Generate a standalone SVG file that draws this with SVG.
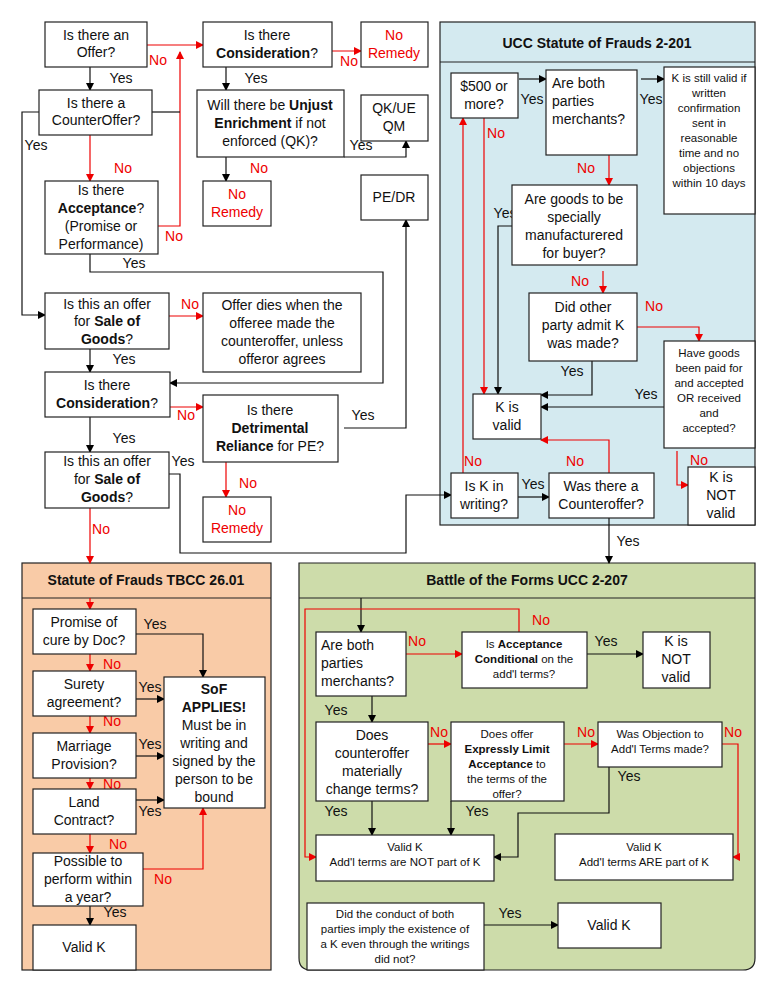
<svg xmlns="http://www.w3.org/2000/svg" width="768" height="994" viewBox="0 0 768 994">
<defs>
<marker id="ab" markerWidth="8" markerHeight="8" refX="7" refY="4" orient="auto" markerUnits="userSpaceOnUse"><path d="M0,0 L8,4 L0,8 Z" fill="#000"/></marker>
<marker id="ar" markerWidth="8" markerHeight="8" refX="7" refY="4" orient="auto" markerUnits="userSpaceOnUse"><path d="M0,0 L8,4 L0,8 Z" fill="#e00"/></marker>
</defs>
<style>
text{font-family:"Liberation Sans",Arial,sans-serif;font-size:14px;fill:#111;text-anchor:middle}
.s{font-size:11.5px}
.l{text-anchor:start}
.r{fill:#e00}
.b{font-weight:bold}
.h{font-weight:bold;font-size:14px}
rect.n{fill:#fff;stroke:#222;stroke-width:1.2}
.k{fill:none;stroke:#111;stroke-width:1.2}
.kr{fill:none;stroke:#e00;stroke-width:1.2}
.k2{fill:none;stroke:#111;stroke-width:1.2;marker-end:url(#ab)}
.kr2{fill:none;stroke:#e00;stroke-width:1.2;marker-end:url(#ar)}
</style>
<rect width="768" height="994" fill="#fff"/>
<g id="panels">
<rect x="440" y="22" width="315" height="503" fill="#d4eaf0" stroke="#222" stroke-width="1.2"/>
<line x1="440" y1="62" x2="755" y2="62" stroke="#222" stroke-width="1.2"/>
<text x="597" y="48" class="h">UCC Statute of Frauds 2-201</text>
<rect x="22" y="563" width="249" height="407" fill="#f9cba7" stroke="#222" stroke-width="1.2"/>
<line x1="22" y1="598" x2="271" y2="598" stroke="#222" stroke-width="1.2"/>
<text x="146" y="585" class="h">Statute of Frauds TBCC 26.01</text>
<path d="M299,563 H755 V958 Q755,970 743,970 H311 Q299,970 299,958 Z" fill="#cddcaa" stroke="#222" stroke-width="1.2"/>
<line x1="299" y1="598" x2="755" y2="598" stroke="#222" stroke-width="1.2"/>
<text x="527" y="585" class="h">Battle of the Forms UCC 2-207</text>
</g>
<g id="connectors">
<path class="kr2" d="M147,45 H203"/><text x="158" y="65" class="r">No</text>
<path class="kr2" d="M158,226 H180 V52"/><path class="k" d="M152,112 H180"/><text x="174" y="241" class="r">No</text>
<path class="k2" d="M90,67 V90"/><text x="121" y="83">Yes</text>
<path class="kr2" d="M90,135 V181"/><text x="123" y="173" class="r">No</text>
<path class="k2" d="M39,112 H22 V315 H45"/><text x="36" y="150">Yes</text>
<path class="k2" d="M90,254 V272 H383 V383 H170"/><text x="134" y="268">Yes</text>
<path class="kr2" d="M327,51 H361"/><text x="349" y="66" class="r">No</text>
<path class="k2" d="M226,67 V90"/><text x="256" y="83">Yes</text>
<path class="k2" d="M344,157 H406 V141"/><text x="361" y="150">Yes</text>
<path class="k2" d="M226,157 V181"/><text x="259" y="173" class="r">No</text>
<path class="kr2" d="M169,316 H203"/><text x="190" y="309" class="r">No</text>
<path class="k2" d="M90,349 V372"/><text x="124" y="364">Yes</text>
<path class="kr2" d="M170,407 H203"/><text x="186" y="420" class="r">No</text>
<path class="k2" d="M90,417 V452"/><text x="124" y="443">Yes</text>
<path class="k2" d="M344,428 H406 V220"/><text x="363" y="420">Yes</text>
<path class="kr2" d="M226,462 V497"/><text x="248" y="488" class="r">No</text>
<path class="k2" d="M169,474 H180 V553 H406 V495 H451"/><text x="183" y="466">Yes</text>
<path class="kr2" d="M90,508 V563"/><text x="101" y="534" class="r">No</text>
<path class="k2" d="M519,79 H546"/><text x="532" y="104">Yes</text>
<path class="k2" d="M641,79 H664"/><text x="651" y="104">Yes</text>
<path class="kr2" d="M484,118 V394"/><text x="496" y="138" class="r">No</text>
<path class="kr2" d="M609,155 V185"/><text x="586" y="173" class="r">No</text>
<path class="k2" d="M512,226 H498 V394"/><text x="505" y="218">Yes</text>
<path class="kr2" d="M603,271 V293"/><text x="580" y="286" class="r">No</text>
<path class="kr2" d="M637,327 H699 V341"/><text x="654" y="311" class="r">No</text>
<path class="k2" d="M592,361 V395 H541"/><text x="572" y="376">Yes</text>
<path class="k2" d="M664,407 H541"/><text x="646" y="399">Yes</text>
<path class="kr2" d="M609,473 V440 H541"/><text x="575" y="466" class="r">No</text>
<path class="kr2" d="M463,473 V118"/><text x="473" y="466" class="r">No</text>
<path class="k2" d="M518,497 H549"/><text x="533" y="489">Yes</text>
<path class="kr2" d="M677,451 V485 H688"/><text x="699" y="465" class="r">No</text>
<path class="k2" d="M609,518 V563"/><text x="628" y="546">Yes</text>
<path class="kr2" d="M90,598 V609"/>
<path class="kr2" d="M90,654 V671"/><text x="112" y="669" class="r">No</text>
<path class="kr2" d="M90,716 V733"/><text x="112" y="726" class="r">No</text>
<path class="kr2" d="M90,778 V789"/><text x="112" y="789" class="r">No</text>
<path class="kr2" d="M90,834 V853"/><text x="118" y="849" class="r">No</text>
<path class="k2" d="M136,634 H203 V677"/><text x="155" y="629">Yes</text>
<path class="k2" d="M136,699 H164"/><text x="150" y="692">Yes</text>
<path class="k2" d="M136,756 H164"/><text x="150" y="749">Yes</text>
<path class="k2" d="M136,800 H164"/><text x="150" y="816">Yes</text>
<path class="kr2" d="M141,869 H203 V808"/><text x="163" y="884" class="r">No</text>
<path class="k2" d="M90,906 V925"/><text x="115" y="917">Yes</text>
<path class="k2" d="M361,598 V632"/>
<path class="kr2" d="M519,632 V609 H305 V857 H316"/><text x="541" y="625" class="r">No</text>
<path class="kr2" d="M406,654 H462"/><text x="417" y="646" class="r">No</text>
<path class="k2" d="M587,654 H643"/><text x="606" y="646">Yes</text>
<path class="k2" d="M372,696 V722"/><text x="336" y="715">Yes</text>
<path class="kr2" d="M428,744 H451"/><text x="439" y="737" class="r">No</text>
<path class="kr2" d="M564,744 H598"/><text x="586" y="737" class="r">No</text>
<path class="kr2" d="M722,744 H738 V857 H733"/><text x="733" y="737" class="r">No</text>
<path class="k2" d="M372,801 V835"/><text x="336" y="816">Yes</text>
<path class="k2" d="M451,801 V835"/><text x="477" y="816">Yes</text>
<path class="k2" d="M609,767 V813 H518 V857 H494"/><text x="629" y="781">Yes</text>
<path class="k2" d="M484,925 H558"/><text x="510" y="918">Yes</text>
</g>
<g id="offer"><rect class="n" x="45" y="22" width="102" height="45"/><text x="96" y="40">Is there an</text><text x="96" y="57">Offer?</text></g>
<g id="counteroffer"><rect class="n" x="39" y="90" width="113" height="45"/><text x="96" y="108">Is there a</text><text x="96" y="125">CounterOffer?</text></g>
<g id="acceptance"><rect class="n" x="45" y="181" width="113" height="73"/><text x="101" y="195">Is there</text><text x="101" y="213"><tspan class="b">Acceptance</tspan>?</text><text x="101" y="231">(Promise or</text><text x="101" y="249">Performance)</text></g>
<g id="consid1"><rect class="n" x="203" y="22" width="129" height="45"/><text x="267" y="40">Is there</text><text x="267" y="58"><tspan class="b">Consideration</tspan>?</text></g>
<g id="noremedy1"><rect class="n" x="361" y="22" width="67" height="45"/><text x="394" y="40" class="r">No</text><text x="394" y="58" class="r">Remedy</text></g>
<g id="unjust"><rect class="n" x="197" y="90" width="147" height="67"/><text x="270" y="110">Will there be <tspan class="b">Unjust</tspan></text><text x="270" y="128"><tspan class="b">Enrichment</tspan> if not</text><text x="270" y="146">enforced (QK)?</text></g>
<g id="qkue"><rect class="n" x="361" y="95" width="67" height="46"/><text x="394" y="113">QK/UE</text><text x="394" y="131">QM</text></g>
<g id="noremedy2"><rect class="n" x="203" y="181" width="68" height="45"/><text x="237" y="199" class="r">No</text><text x="237" y="217" class="r">Remedy</text></g>
<g id="pedr"><rect class="n" x="361" y="175" width="67" height="45"/><text x="394" y="202">PE/DR</text></g>
<g id="sale1"><rect class="n" x="45" y="293" width="124" height="56"/><text x="107" y="309">Is this an offer</text><text x="107" y="326">for <tspan class="b">Sale of</tspan></text><text x="107" y="344"><tspan class="b">Goods</tspan>?</text></g>
<g id="offerdies"><rect class="n" x="203" y="293" width="158" height="79"/><text x="282" y="310">Offer dies when the</text><text x="282" y="328">offeree made the</text><text x="282" y="346">counteroffer, unless</text><text x="282" y="364">offeror agrees</text></g>
<g id="consid2"><rect class="n" x="45" y="372" width="125" height="45"/><text x="107" y="390">Is there</text><text x="107" y="408"><tspan class="b">Consideration</tspan>?</text></g>
<g id="detrimental"><rect class="n" x="203" y="395" width="135" height="67"/><text x="270" y="415">Is there</text><text x="270" y="433" class="b">Detrimental</text><text x="270" y="451"><tspan class="b">Reliance</tspan> for PE?</text></g>
<g id="sale2"><rect class="n" x="45" y="452" width="124" height="56"/><text x="107" y="466">Is this an offer</text><text x="107" y="484">for <tspan class="b">Sale of</tspan></text><text x="107" y="502"><tspan class="b">Goods</tspan>?</text></g>
<g id="noremedy3"><rect class="n" x="203" y="497" width="68" height="45"/><text x="237" y="515" class="r">No</text><text x="237" y="533" class="r">Remedy</text></g>
<g id="u500"><rect class="n" x="451" y="73" width="67" height="45"/><text x="484" y="91">$500 or</text><text x="484" y="109">more?</text></g>
<g id="umerch"><rect class="n" x="546" y="70" width="91" height="85"/><text x="552" y="88" class="l">Are both</text><text x="552" y="106" class="l">parties</text><text x="552" y="124" class="l">merchants?</text></g>
<g id="ustill"><rect class="n" x="664" y="67" width="91" height="147"/><text x="709" y="82" class="s">K is still valid if</text><text x="709" y="97" class="s">written</text><text x="709" y="112" class="s">confirmation</text><text x="709" y="127" class="s">sent in</text><text x="709" y="142" class="s">reasonable</text><text x="709" y="157" class="s">time and no</text><text x="709" y="172" class="s">objections</text><text x="709" y="187" class="s">within 10 days</text></g>
<g id="uspecial"><rect class="n" x="512" y="185" width="125" height="80"/><text x="574" y="204">Are goods to be</text><text x="574" y="222">specially</text><text x="574" y="240">manufacturered</text><text x="574" y="258">for buyer?</text></g>
<g id="uadmit"><rect class="n" x="529" y="293" width="108" height="68"/><text x="583" y="312">Did other</text><text x="583" y="330">party admit K</text><text x="583" y="348">was made?</text></g>
<g id="upaid"><rect class="n" x="664" y="341" width="91" height="107"/><text x="709" y="357" class="s">Have goods</text><text x="709" y="372" class="s">been paid for</text><text x="709" y="387" class="s">and accepted</text><text x="709" y="402" class="s">OR received</text><text x="709" y="417" class="s">and</text><text x="709" y="432" class="s">accepted?</text></g>
<g id="uvalid"><rect class="n" x="473" y="394" width="68" height="45"/><text x="507" y="412">K is</text><text x="507" y="430">valid</text></g>
<g id="uwriting"><rect class="n" x="451" y="473" width="67" height="45"/><text x="484" y="491">Is K in</text><text x="484" y="509">writing?</text></g>
<g id="ucounter"><rect class="n" x="549" y="473" width="105" height="45"/><text x="601" y="491">Was there a</text><text x="601" y="509">Counteroffer?</text></g>
<g id="unot"><rect class="n" x="688" y="467" width="67" height="58"/><text x="721" y="482">K is</text><text x="721" y="500">NOT</text><text x="721" y="518">valid</text></g>
<g id="spromise"><rect class="n" x="33" y="609" width="103" height="45"/><text x="84" y="627">Promise of</text><text x="84" y="645">cure by Doc?</text></g>
<g id="ssurety"><rect class="n" x="33" y="671" width="103" height="45"/><text x="84" y="689">Surety</text><text x="84" y="707">agreement?</text></g>
<g id="smarriage"><rect class="n" x="33" y="733" width="103" height="45"/><text x="84" y="751">Marriage</text><text x="84" y="769">Provision?</text></g>
<g id="sland"><rect class="n" x="33" y="789" width="103" height="45"/><text x="84" y="807">Land</text><text x="84" y="825">Contract?</text></g>
<g id="spossible"><rect class="n" x="33" y="853" width="110" height="53"/><text x="88" y="866">Possible to</text><text x="88" y="884">perform within</text><text x="88" y="902">a year?</text></g>
<g id="svalid"><rect class="n" x="33" y="925" width="103" height="45"/><text x="84" y="952">Valid K</text></g>
<g id="sapplies"><rect class="n" x="164" y="677" width="101" height="131"/><text x="214" y="694" class="b">SoF</text><text x="214" y="712" class="b">APPLIES!</text><text x="214" y="730">Must be in</text><text x="214" y="748">writing and</text><text x="214" y="766">signed by the</text><text x="214" y="784">person to be</text><text x="214" y="802">bound</text></g>
<g id="bmerch"><rect class="n" x="316" y="632" width="90" height="64"/><text x="321" y="650" class="l">Are both</text><text x="321" y="668" class="l">parties</text><text x="321" y="686" class="l">merchants?</text></g>
<g id="bcond"><rect class="n" x="462" y="632" width="125" height="56"/><text x="524" y="648" class="s">Is <tspan class="b">Acceptance</tspan></text><text x="524" y="663" class="s"><tspan class="b">Conditional</tspan> on the</text><text x="524" y="678" class="s">add'l terms?</text></g>
<g id="bnot"><rect class="n" x="643" y="632" width="67" height="56"/><text x="676" y="646">K is</text><text x="676" y="664">NOT</text><text x="676" y="682">valid</text></g>
<g id="bmaterial"><rect class="n" x="316" y="722" width="112" height="79"/><text x="372" y="740">Does</text><text x="372" y="758">counteroffer</text><text x="372" y="776">materially</text><text x="372" y="794">change terms?</text></g>
<g id="bexpress"><rect class="n" x="451" y="722" width="113" height="79"/><text x="507" y="738" class="s">Does offer</text><text x="507" y="753" class="s b">Expressly Limit</text><text x="507" y="768" class="s"><tspan class="b">Acceptance</tspan> to</text><text x="507" y="783" class="s">the terms of the</text><text x="507" y="798" class="s">offer?</text></g>
<g id="bobject"><rect class="n" x="598" y="722" width="124" height="45"/><text x="660" y="738" class="s">Was Objection to</text><text x="660" y="753" class="s">Add'l Terms made?</text></g>
<g id="bvalidnot"><rect class="n" x="316" y="835" width="178" height="46"/><text x="405" y="851" class="s">Valid K</text><text x="405" y="866" class="s">Add'l terms are NOT part of K</text></g>
<g id="bvalidare"><rect class="n" x="555" y="834" width="178" height="46"/><text x="644" y="851" class="s">Valid K</text><text x="644" y="866" class="s">Add'l terms ARE part of K</text></g>
<g id="bconduct"><rect class="n" x="307" y="903" width="177" height="67"/><text x="395" y="918" class="s">Did the conduct of both</text><text x="395" y="933" class="s">parties imply the existence of</text><text x="395" y="948" class="s">a K even through the writings</text><text x="395" y="963" class="s">did not?</text></g>
<g id="bvalid"><rect class="n" x="558" y="903" width="103" height="45"/><text x="609" y="930">Valid K</text></g>
</svg>
